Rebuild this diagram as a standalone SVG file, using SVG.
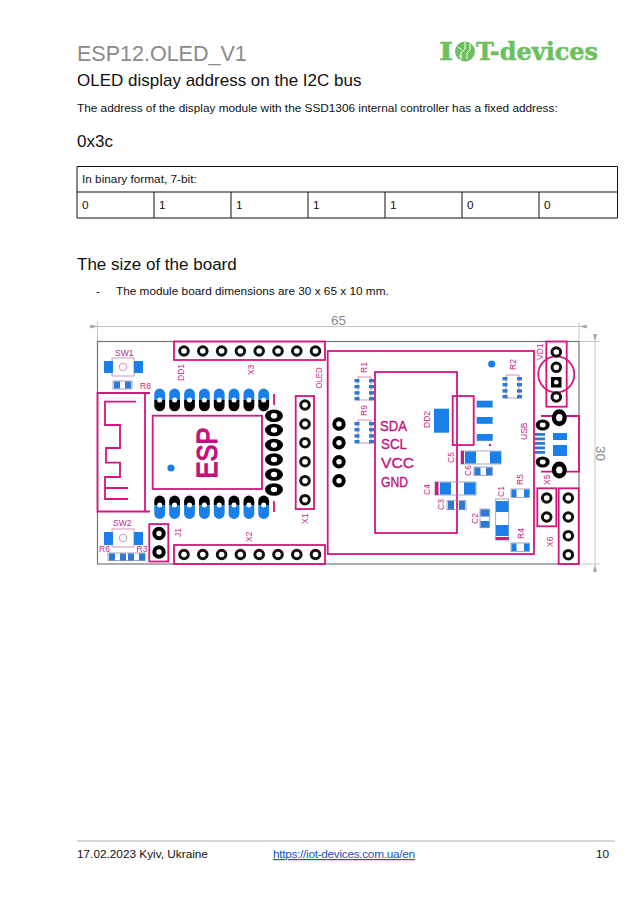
<svg xmlns="http://www.w3.org/2000/svg" width="638" height="901" viewBox="0 0 638 901">
<style>
text{font-family:"Liberation Sans",Arial,sans-serif;fill:#111}
.h{font-size:17px}.p{font-size:11.8px}.t{font-size:11.8px}
.tb{fill:none;stroke:#111;stroke-width:1}
.pk{fill:none;stroke:#d6157f;stroke-width:1.8}
.thin{fill:none;stroke:#c77ba8;stroke-width:.8}
.bl{fill:#1a7fe8}
.sm{fill:#2f79d6}
.lb{font-size:8.5px;fill:#c4247f}
.big{font-size:15.5px;fill:#c4107a;stroke:#c4107a;stroke-width:.35}
.dim{stroke:#b9b9b9;stroke-width:.8;fill:none}
.dt{font-size:13.5px;fill:#8a8a8a}
.gp{fill:none;stroke:#8f8fa8;stroke-width:.8}
.ring{fill:#fff;stroke:#111;stroke-width:3}
.ringb{fill:#fff;stroke:#000;stroke-width:4}
.blk{fill:#000}
.hole{fill:#fff}
.lg{font-family:"DejaVu Serif",serif;font-size:24px;font-weight:bold;fill:#6cc05f;stroke:#6cc05f;stroke-width:.5}
</style>
<defs>
<marker id="ah" viewBox="0 0 8 4" refX="0" refY="2" markerWidth="8" markerHeight="4" orient="auto-start-reverse" markerUnits="userSpaceOnUse"><path d="M8 0 0 2 8 4z" fill="#aaa"/></marker>
<g id="pr"><circle r="4.300" class="ring"/></g>
<g id="pb"><circle r="4.700" class="ringb"/></g>
<g id="oval"><ellipse rx="9" ry="6.300" class="blk"/><ellipse rx="3.200" ry="2.800" class="hole"/></g>
<g id="ptop"><path d="M-5.400 12v-6.500a5.400 5.400 0 0 1 10.800 0v6.500z" class="bl" transform="translate(0 -11.500)"/><path d="M-5.400 0h10.800v5.900a5.400 5.400 0 0 1-10.800 0z" class="blk"/><circle r="2.500" class="hole"/></g>
<g id="pbot"><path d="M-5.400 0v-4a5.400 5.400 0 0 1 10.800 0v4z" class="blk"/><path d="M-5.400 0h10.800v8.500a5.400 5.400 0 0 1-10.800 0z" class="bl"/><circle r="2.500" class="hole"/></g>
<g id="rarr"><rect x="-6.500" y="-11" width="13" height="23" class="thin"/><g class="sm"><rect x="-10" y="-9" width="5" height="3.400"/><rect x="-10" y="-3" width="5" height="3.400"/><rect x="-10" y="3.200" width="5" height="3.400"/><rect x="-10" y="9" width="5" height="3.400"/><rect x="4.500" y="-9" width="5" height="3.400"/><rect x="4.500" y="-3" width="5" height="3.400"/><rect x="4.500" y="3.200" width="5" height="3.400"/><rect x="4.500" y="9" width="5" height="3.400"/></g></g>
<g id="res"><rect width="18.500" height="8.500" fill="#fff" class="gp"/><rect x=".5" y=".5" width="5" height="7.500" class="bl"/><rect x="13" y=".5" width="5" height="7.500" class="bl"/></g>
</defs>

<g id="page-text">
<text x="77" y="61" font-size="21.500" style="fill:#8a8a8a">ESP12.OLED_V1</text>
<text x="77" y="86" class="h">OLED display address on the I2C bus</text>
<text x="77" y="112" class="p">The address of the display module with the SSD1306 internal controller has a fixed address:</text>
<text x="77" y="147" class="h">0x3c</text>
<text x="77" y="270" class="h">The size of the board</text>
<text x="96" y="295" class="p">-</text>
<text x="116" y="295" class="p">The module board dimensions are 30 x 65 x 10 mm.</text>
</g>

<g id="logo">
<text x="439" y="60" class="lg" textLength="14" lengthAdjust="spacingAndGlyphs">I</text>
<circle cx="465" cy="51.500" r="10" fill="#6cc05f"/>
<path d="M465 42v7l-4 4v7M470 44v6l-3 3v6M458 47l4 3M459 56h3" fill="none" stroke="#fff" stroke-width="1"/>
<text x="476" y="60" class="lg" textLength="122" lengthAdjust="spacingAndGlyphs">T-devices</text>
</g>

<g id="table">
<path class="tb" d="M77 166.500H617.500V218H77zM77 192H617.500M154 192V218M231 192V218M308 192V218M385 192V218M462 192V218M539 192V218"/>
<text x="82" y="183" class="t">In binary format, 7-bit:</text>
<text x="82" y="209" class="t">0</text><text x="159" y="209" class="t">1</text><text x="236" y="209" class="t">1</text><text x="313" y="209" class="t">1</text><text x="390" y="209" class="t">1</text><text x="467" y="209" class="t">0</text><text x="544" y="209" class="t">0</text>
</g>

<g id="board-outline"><rect x="97.500" y="341.500" width="481.500" height="222.500" fill="#fff" stroke="#777" stroke-width="1.200"/></g>

<g id="dimensions">
<path class="dim" d="M97.500 322V341M579 322V341M579 341.500H600M579 564H600"/>
<path class="dim" d="M98 326.500H579" marker-start="url(#ah)" marker-end="url(#ah)"/>
<path class="dim" d="M595 342V564" marker-start="url(#ah)" marker-end="url(#ah)"/>
<text x="331" y="325" class="dt">65</text>
<text transform="translate(596 446) rotate(90)" class="dt">30</text>
</g>

<g id="X3"><rect class="pk" x="174" y="341.500" width="151" height="18.500"/>
<use href="#pr" x="184" y="351"/><use href="#pr" x="202.800" y="351"/><use href="#pr" x="221.600" y="351"/><use href="#pr" x="240.400" y="351"/><use href="#pr" x="259.200" y="351"/><use href="#pr" x="278" y="351"/><use href="#pr" x="296.800" y="351"/><use href="#pr" x="315.500" y="351"/>
<text class="lb" transform="translate(254 375) rotate(-90)">X3</text></g>

<g id="X2"><rect class="pk" x="174" y="545" width="151" height="19"/>
<use href="#pr" x="184" y="554.500"/><use href="#pr" x="202.800" y="554.500"/><use href="#pr" x="221.600" y="554.500"/><use href="#pr" x="240.400" y="554.500"/><use href="#pr" x="259.200" y="554.500"/><use href="#pr" x="278" y="554.500"/><use href="#pr" x="296.800" y="554.500"/><use href="#pr" x="315.500" y="554.500"/>
<text class="lb" transform="translate(252 542) rotate(-90)">X2</text></g>

<g id="SW1"><rect x="112" y="358" width="22" height="18" fill="#fff" class="thin"/><rect x="104" y="361" width="9" height="12" class="bl"/><rect x="134" y="361" width="9" height="12" class="bl"/><circle cx="123" cy="367" r="3.800" class="thin"/>
<text class="lb" x="115" y="355.700">SW1</text></g>
<g id="R8"><rect x="113" y="381" width="19" height="8" fill="#fff" class="gp"/><rect x="114" y="381.500" width="6" height="7" class="sm"/><rect x="125" y="381.500" width="6" height="7" class="sm"/><text class="lb" x="140" y="389">R8</text></g>

<g id="SW2"><rect x="112" y="529" width="22" height="18" fill="#fff" class="thin"/><rect x="104" y="532" width="9" height="13" class="bl"/><rect x="134" y="532" width="9" height="13" class="bl"/><circle cx="123" cy="538" r="3.800" class="thin"/>
<text class="lb" x="113" y="526">SW2</text></g>
<g id="R6-R3"><rect x="108" y="553" width="37" height="7.500" fill="#fff" class="gp"/><rect x="109" y="553.500" width="6" height="7" class="sm"/><rect x="120" y="553.500" width="6" height="7" class="sm"/><rect x="128" y="553.500" width="6" height="7" class="sm"/><rect x="139" y="553.500" width="6" height="7" class="sm"/>
<text class="lb" x="99" y="551.700">R6</text><text class="lb" x="136.500" y="551.700">R3</text></g>

<g id="J1"><rect class="pk" x="149.300" y="524" width="19" height="37.500"/><use href="#pb" x="159" y="533.500"/><use href="#pb" x="159" y="552"/>
<text class="lb" transform="translate(181 537) rotate(-90)">J1</text></g>

<g id="DD1">
<path class="pk" d="M150 393H97.500V511.500H150M145 393V511.500"/>
<path class="pk" d="M136 401.700H105V425H120V448H106V462.700H120V477H105V499H128M105 488H128"/>
<rect class="pk" x="152.700" y="415.700" width="109.300" height="73.300"/>
<text transform="translate(217 478.500) rotate(-90)" font-size="30" style="fill:#c4107a;stroke:#c4107a;stroke-width:1.200" textLength="51" lengthAdjust="spacingAndGlyphs">ESP</text>
<circle cx="171" cy="468" r="3.600" class="bl"/>
<use href="#ptop" x="159.700" y="400"/><use href="#ptop" x="174.600" y="400"/><use href="#ptop" x="189.500" y="400"/><use href="#ptop" x="204.400" y="400"/><use href="#ptop" x="219.200" y="400"/><use href="#ptop" x="234" y="400"/><use href="#ptop" x="248.900" y="400"/><use href="#ptop" x="263.700" y="400"/>
<use href="#pbot" x="159.700" y="505"/><use href="#pbot" x="174.600" y="505"/><use href="#pbot" x="189.500" y="505"/><use href="#pbot" x="204.400" y="505"/><use href="#pbot" x="219.200" y="505"/><use href="#pbot" x="234" y="505"/><use href="#pbot" x="248.900" y="505"/><use href="#pbot" x="263.700" y="505"/>
<use href="#oval" x="274" y="415.700"/><use href="#oval" x="274" y="430"/><use href="#oval" x="274" y="445"/><use href="#oval" x="274" y="459.500"/><use href="#oval" x="274" y="474.500"/><use href="#oval" x="274" y="489.500"/>
<path class="pk" d="M274 394V405M274 501V512"/>
<text class="lb" transform="translate(184 381) rotate(-90)">DD1</text>
</g>

<g id="X1"><rect class="pk" x="295.700" y="396" width="18.300" height="113"/>
<use href="#pr" x="305" y="405"/><use href="#pr" x="305" y="424"/><use href="#pr" x="305" y="442.700"/><use href="#pr" x="305" y="461.700"/><use href="#pr" x="305" y="480.700"/><use href="#pr" x="305" y="499.700"/>
<text class="lb" transform="translate(308 524) rotate(-90)">X1</text>
<text class="lb" transform="translate(322 388.500) rotate(-90)" textLength="21" lengthAdjust="spacingAndGlyphs">OLED</text></g>

<g id="OLED-module"><rect class="pk" x="327.700" y="351" width="206.300" height="203"/>
<rect class="pk" x="375" y="372" width="82" height="161"/>
<use href="#pb" x="339" y="424"/><use href="#pb" x="339" y="442.700"/><use href="#pb" x="339" y="461.700"/><use href="#pb" x="339" y="480.700"/>
<text class="big" x="380" y="431" textLength="27" lengthAdjust="spacingAndGlyphs">SDA</text>
<text class="big" x="381" y="449" textLength="26" lengthAdjust="spacingAndGlyphs">SCL</text>
<text class="big" x="381" y="468" textLength="33" lengthAdjust="spacingAndGlyphs">VCC</text>
<text class="big" x="381" y="487" textLength="27" lengthAdjust="spacingAndGlyphs">GND</text></g>

<g id="R1"><use href="#rarr" x="364.500" y="388"/><text class="lb" transform="translate(367 373) rotate(-90)">R1</text></g>
<g id="R9"><use href="#rarr" x="364.500" y="431"/><text class="lb" transform="translate(367 416) rotate(-90)">R9</text></g>
<g id="R2"><use href="#rarr" x="512.500" y="386"/><text class="lb" transform="translate(516 370) rotate(-90)">R2</text><circle cx="491.700" cy="364" r="3.600" class="bl"/></g>

<g id="DD2"><rect class="pk" x="452.700" y="396" width="21" height="49"/><rect x="434" y="408.700" width="15" height="24" class="bl"/>
<rect x="476.700" y="400.700" width="16" height="6.800" class="bl"/><rect x="476.700" y="417" width="16" height="6.800" class="bl"/><rect x="476.700" y="434" width="16" height="6.800" class="bl"/>
<text class="lb" transform="translate(430 428) rotate(-90)">DD2</text></g>

<g id="C5"><rect x="461" y="451" width="40" height="13" fill="#fff" class="gp"/><rect x="461" y="451" width="3" height="13" fill="#d6157f"/><rect x="465" y="451.500" width="11" height="12" class="bl"/><rect x="490" y="451.500" width="11" height="12" class="bl"/><text class="lb" transform="translate(454 463) rotate(-90)">C5</text></g>
<g id="C6"><rect x="474" y="467" width="18.500" height="8.500" fill="#fff" class="gp"/><rect x="474.500" y="467.500" width="6" height="7.500" class="sm"/><rect x="486" y="467.500" width="6" height="7.500" class="sm"/><circle cx="490" cy="445" r="1.200" fill="#d6157f"/><text class="lb" transform="translate(471 476) rotate(-90)">C6</text></g>
<g id="C4"><rect x="435" y="482" width="41" height="13" fill="#fff" class="gp"/><rect x="435" y="482" width="3.500" height="13" fill="#d6157f"/><rect x="440" y="482.500" width="11" height="12" class="bl"/><rect x="464" y="482.500" width="11.500" height="12" class="bl"/><text class="lb" transform="translate(430 495) rotate(-90)">C4</text></g>
<g id="C3"><rect x="447" y="500.700" width="19" height="9" fill="#fff" class="gp"/><rect x="448" y="501" width="6" height="8.500" class="sm"/><rect x="459" y="501" width="6" height="8.500" class="sm"/><text class="lb" transform="translate(444 510) rotate(-90)">C3</text></g>
<g id="C2"><rect x="480" y="509" width="9.700" height="18.700" fill="#fff" class="gp"/><rect x="480.500" y="509.500" width="8.700" height="7" class="sm"/><rect x="480.500" y="521" width="8.700" height="6.500" class="sm"/><text class="lb" transform="translate(478 524) rotate(-90)">C2</text></g>
<g id="C1"><rect x="495.700" y="499" width="13" height="41" fill="#fff" class="gp"/><rect x="496" y="501" width="12.500" height="11" class="bl"/><rect x="496" y="525" width="12.500" height="11" class="bl"/><rect x="495.700" y="537" width="13" height="3" fill="#d6157f"/><text class="lb" transform="translate(504 497) rotate(-90)">C1</text></g>
<g id="R5"><use href="#res" x="511" y="489"/><text class="lb" transform="translate(523 485) rotate(-90)">R5</text></g>
<g id="R4"><use href="#res" x="511" y="543"/><text class="lb" transform="translate(524 539) rotate(-90)">R4</text></g>

<g id="VD1"><rect class="pk" x="546.300" y="341.500" width="20.400" height="65.200"/><circle class="pk" cx="556.300" cy="374.300" r="18"/>
<use href="#pr" x="556.300" y="352"/><use href="#pr" x="556.300" y="367.300"/><rect x="551" y="377" width="10.500" height="10.500" fill="#000"/><circle cx="556.300" cy="382.200" r="2.300" class="hole"/><use href="#pr" x="556.300" y="397"/>
<text class="lb" transform="translate(543 360) rotate(-90)">VD1</text></g>

<g id="USB"><path class="pk" d="M541 416H579V471.700H541"/>
<rect x="553" y="433" width="14" height="7" class="bl"/><rect x="553" y="445" width="14" height="11" class="bl"/>
<g class="sm"><rect x="535" y="433" width="10" height="2.800"/><rect x="535" y="437.500" width="10" height="2.800"/><rect x="535" y="442" width="10" height="2.800"/><rect x="535" y="446.500" width="10" height="2.800"/><rect x="535" y="451" width="10" height="2.800"/></g>
<ellipse cx="559.300" cy="417.700" rx="7.500" ry="8.500" class="blk"/><ellipse cx="559.300" cy="417.700" rx="3.200" ry="3.600" class="hole"/>
<ellipse cx="559.300" cy="470" rx="7.500" ry="8.500" class="blk"/><ellipse cx="559.300" cy="470" rx="3.200" ry="3.600" class="hole"/>
<ellipse cx="542.700" cy="425" rx="7" ry="5.500" class="blk"/><ellipse cx="542.700" cy="425" rx="3" ry="2.400" class="hole"/>
<ellipse cx="542.700" cy="462" rx="7" ry="5.500" class="blk"/><ellipse cx="542.700" cy="462" rx="3" ry="2.400" class="hole"/>
<text class="lb" transform="translate(527 440) rotate(-90)">USB</text></g>

<g id="X5"><rect class="pk" x="537.300" y="488.300" width="19" height="38"/><use href="#pr" x="546.700" y="498"/><use href="#pr" x="546.700" y="517"/><text class="lb" transform="translate(550 485) rotate(-90)">X5</text></g>
<g id="X6"><rect class="pk" x="558.700" y="488.300" width="20" height="75.700"/><use href="#pr" x="568.300" y="498"/><use href="#pr" x="568.300" y="517"/><use href="#pr" x="568.300" y="535.700"/><use href="#pr" x="568.300" y="554.700"/><text class="lb" transform="translate(553 547) rotate(-90)">X6</text></g>

<g id="footer"><path d="M77 841H615" stroke="#999" stroke-width=".8" fill="none"/>
<text x="77" y="858" class="p">17.02.2023 Kyiv, Ukraine</text>
<text x="273" y="858" class="p" style="fill:#1155cc" text-decoration="underline" textLength="142">https://iot-devices.com.ua/en</text>
<text x="596" y="858" class="p">10</text></g>
</svg>
